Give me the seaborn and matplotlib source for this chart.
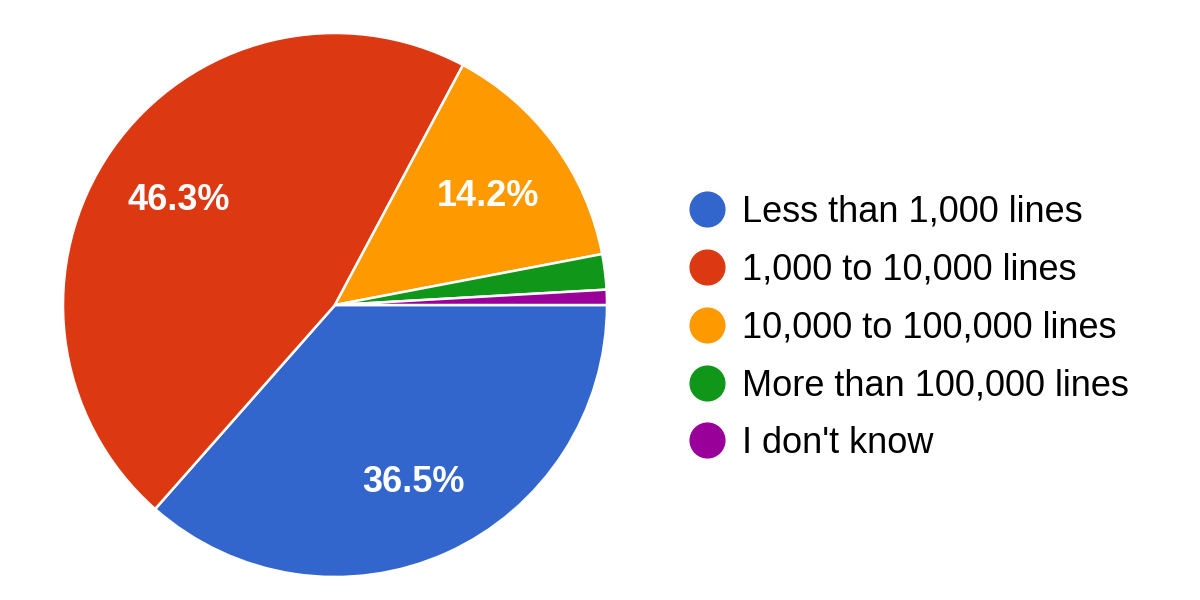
import matplotlib.pyplot as plt
import seaborn as sns
from matplotlib.lines import Line2D

# Data
categories = ['Less than 1,000 lines', '1,000 to 10,000 lines', '10,000 to 100,000 lines',
              'More than 100,000 lines', "I don't know"]
shares = [36.5, 46.3, 14.2, 2.1, 0.9]
colors = ['#3366cc', '#dc3912', '#ff9900', '#109618', '#990099']

sns.set_style('white')
plt.rcParams['font.family'] = ['Liberation Sans', 'DejaVu Sans']
plt.rcParams['text.color'] = 'black'

fig = plt.figure(figsize=(12, 6), dpi=100)
# pie centre ~ (335, 305) px, radius ~272 px
ax = fig.add_axes([63 / 1200, 23 / 600, 544 / 1200, 544 / 600])

def fmt(p):
    return f'{p:.1f}%' if p > 5 else ''

wedges, texts, autotexts = ax.pie(shares, colors=colors, startangle=0, counterclock=False,
                                  autopct=fmt, pctdistance=0.70,
                                  wedgeprops=dict(edgecolor='white', linewidth=1.8),
                                  textprops=dict(color='white', fontsize=26, fontweight='bold'))
for t in autotexts:
    t.set_va('center_baseline')
ax.set_xlim(-1, 1)
ax.set_ylim(-1, 1)
ax.set_aspect('equal')
ax.axis('off')

handles = [Line2D([0], [0], marker='o', linestyle='', markersize=25,
                  markerfacecolor=c, markeredgecolor=c) for c in colors]
fig.legend(handles, categories, loc='center left', bbox_to_anchor=(689 / 1200, 1 - 328 / 600),
           frameon=False, fontsize=26, handlelength=1.0, handletextpad=0.47,
           labelspacing=0.63, borderpad=0, borderaxespad=0, labelcolor='black')

fig.savefig('out.png', dpi=100, facecolor='white')
